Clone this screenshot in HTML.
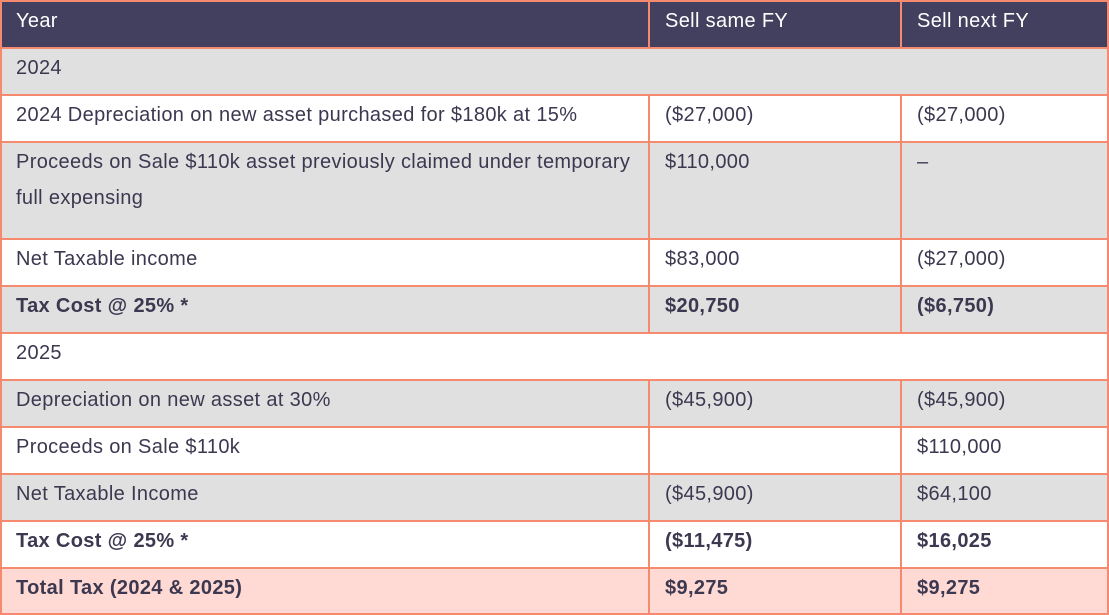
<!DOCTYPE html>
<html><head><style>
body{margin:0;width:1109px;height:615px;overflow:hidden;background:#fff;font-family:"Liberation Sans",sans-serif;}
.c{position:absolute;box-sizing:border-box;padding:3px 14px 0 16px;font-size:20px;letter-spacing:0.35px;line-height:36px;color:#3b3850;}
.h{background:#433f5e;color:#fff;}
.g{background:#e0e0e0;}
.w{background:#fff;}
.p{background:#ffd9d4;}
.b{font-weight:bold;}
.vl{position:absolute;width:2px;background:#f58a6e;}
.hl{position:absolute;height:2px;background:#f58a6e;left:0;width:1109px;}
</style></head><body>
<div id="t"></div>
<script>
var ys=[0,47,94,141,238,285,332,379,426,473,520,567,614];
var rows=[
["h",["Year","Sell same FY","Sell next FY"]],
["g",["2024"],1],
["w",["2024 Depreciation on new asset purchased for $180k at 15%","($27,000)","($27,000)"]],
["g",["Proceeds on Sale $110k asset previously claimed under temporary full expensing","$110,000","–"]],
["w",["Net Taxable income","$83,000","($27,000)"]],
["g b",["Tax Cost @ 25% *","$20,750","($6,750)"]],
["w",["2025"],1],
["g",["Depreciation on new asset at 30%","($45,900)","($45,900)"]],
["w",["Proceeds on Sale $110k","","$110,000"]],
["g",["Net Taxable Income","($45,900)","$64,100"]],
["w b",["Tax Cost @ 25% *","($11,475)","$16,025"]],
["p b",["Total Tax (2024 & 2025)","$9,275","$9,275"]]];
var xs=[0,649,901,1109],h="";
rows.forEach(function(r,i){
 var y=ys[i],hh=ys[i+1]-y;
 if(r[2]){h+='<div class="c '+r[0]+'" style="left:0;top:'+y+'px;width:1109px;height:'+hh+'px">'+r[1][0]+'</div>';}
 else{for(var j=0;j<3;j++)h+='<div class="c '+r[0]+'" style="left:'+xs[j]+'px;top:'+y+'px;width:'+(xs[j+1]-xs[j])+'px;height:'+hh+'px">'+r[1][j].replace("&","&amp;")+'</div>';
  h+='<div class="vl" style="left:648px;top:'+y+'px;height:'+hh+'px"></div><div class="vl" style="left:900px;top:'+y+'px;height:'+hh+'px"></div>';}
});
ys.forEach(function(y){h+='<div class="hl" style="top:'+(y===614?613:y)+'px"></div>';});
h+='<div class="vl" style="left:0;top:0;height:615px"></div><div class="vl" style="left:1107px;top:0;height:615px"></div>';
document.getElementById("t").innerHTML=h;
</script>
</body></html>
